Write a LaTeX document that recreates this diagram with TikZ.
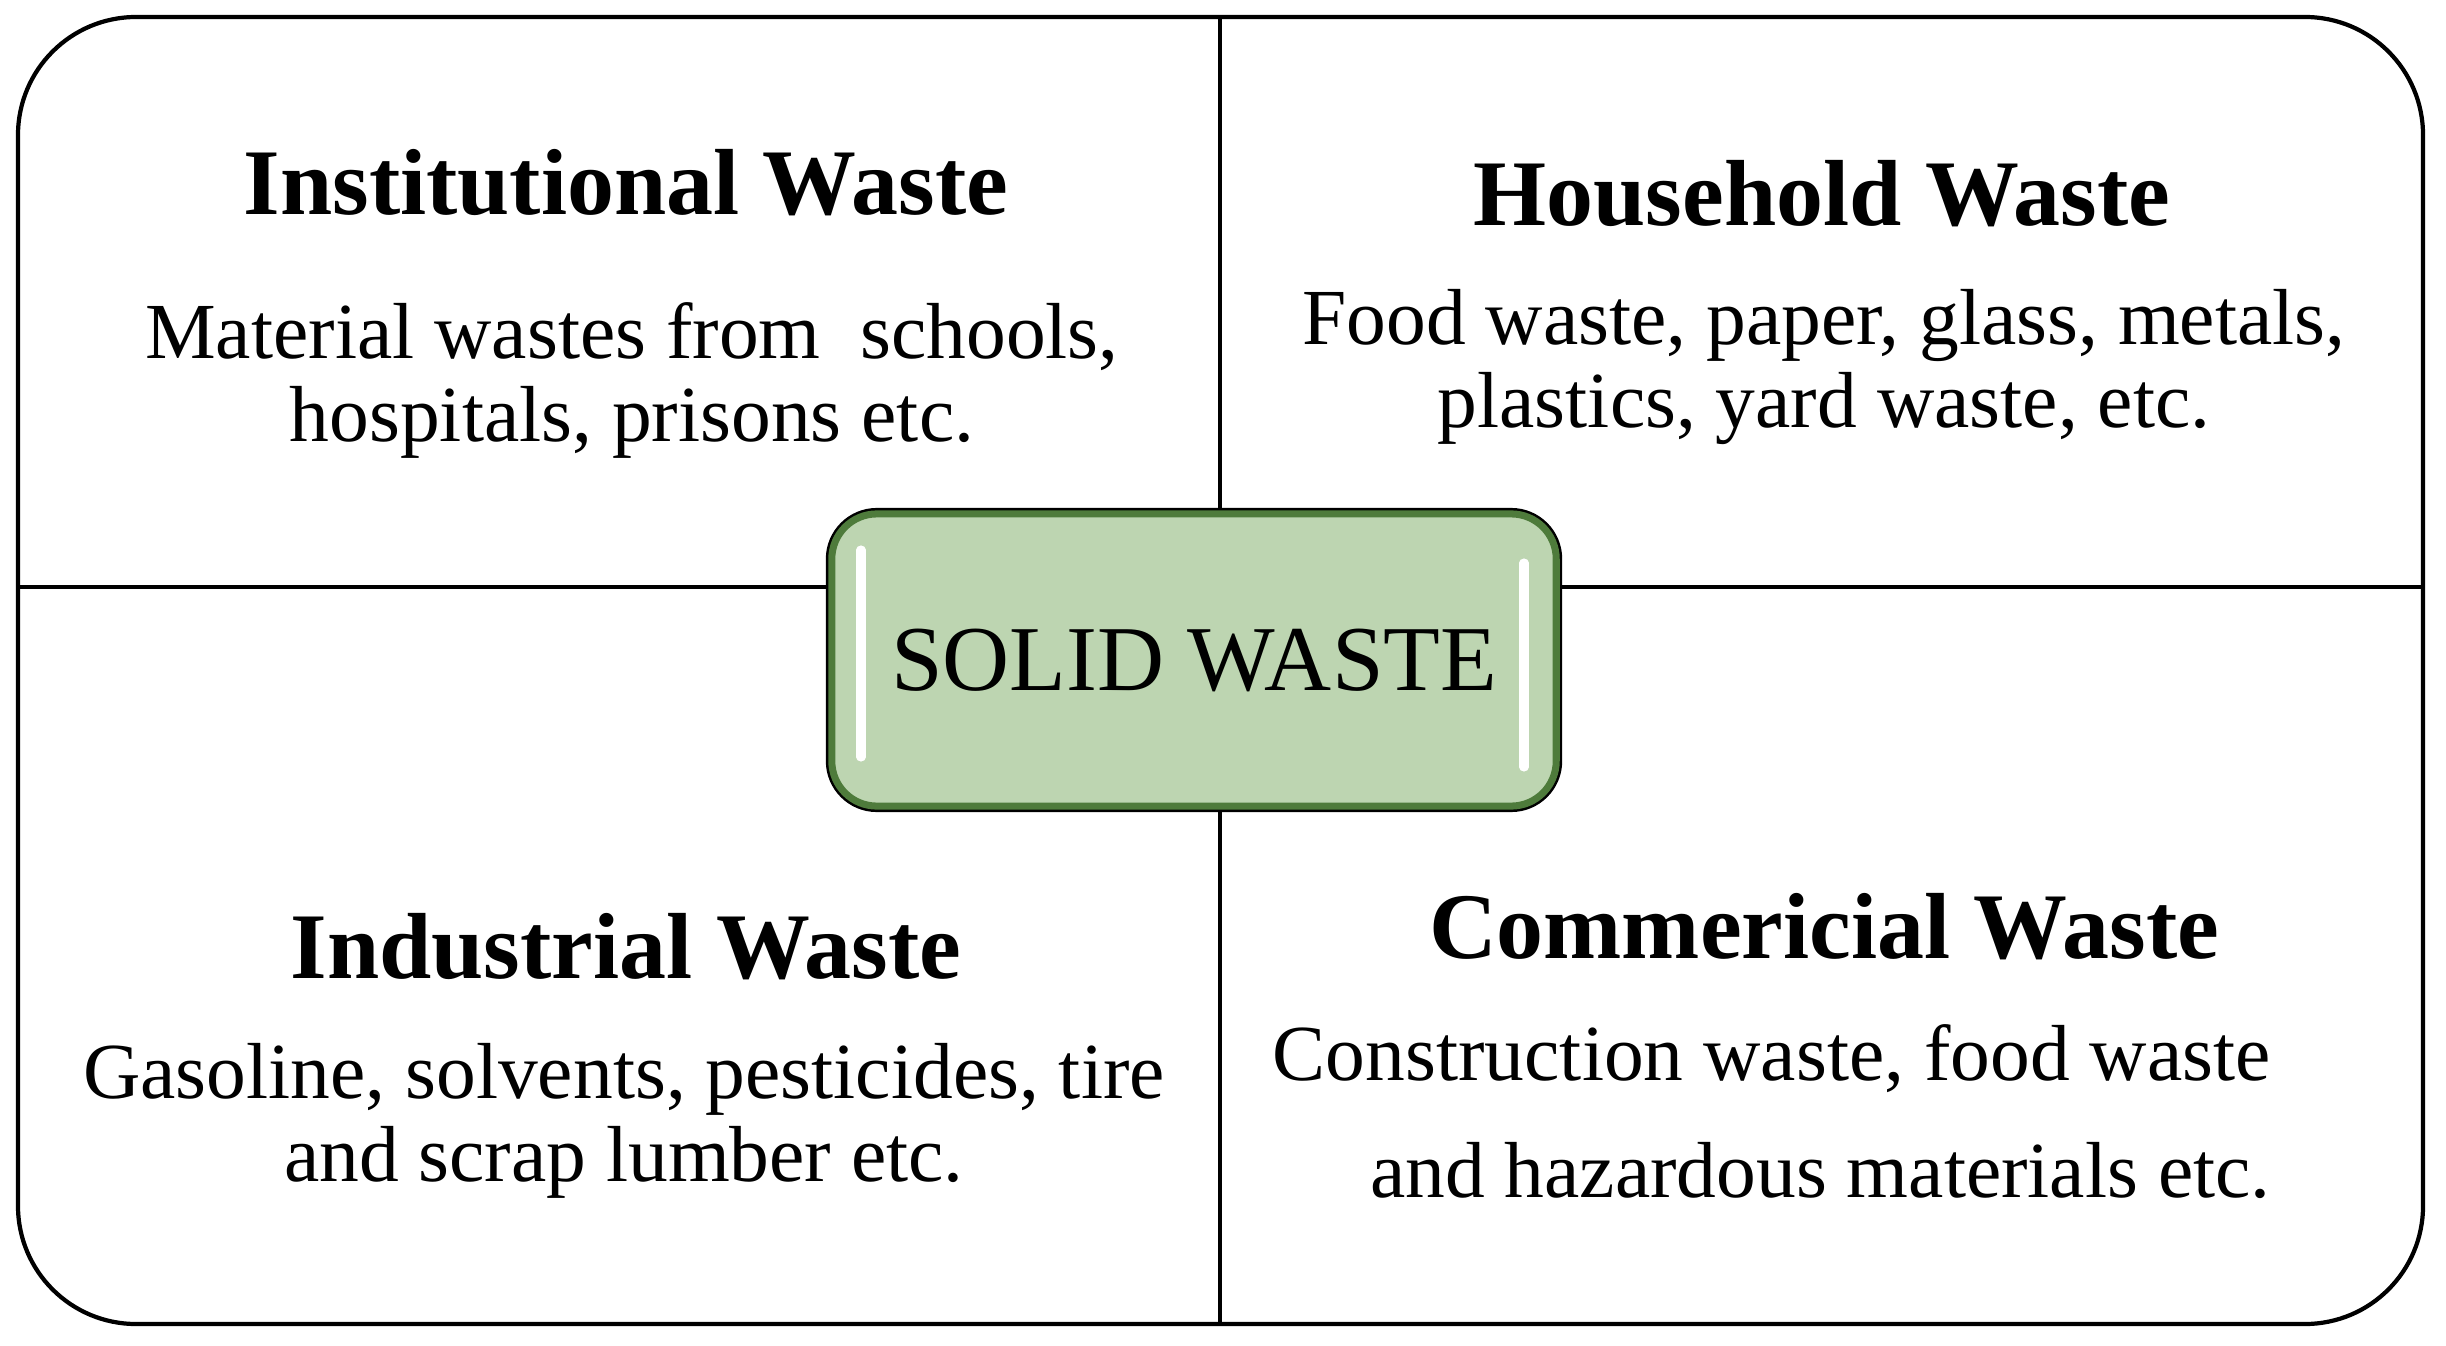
\documentclass[tikz,border=0pt]{standalone}
\usepackage{fontspec}
\setmainfont{Liberation Serif}
\definecolor{solidfill}{HTML}{BDD5B1}
\definecolor{solidedge}{HTML}{4E7B3B}
\begin{document}
\begin{tikzpicture}[x=0.01cm,y=-0.01cm,
  frame/.style={line width=1.2pt, rounded corners=1.18cm},
  divider/.style={line width=1.1pt},
  title/.style={anchor=base, font=\fontsize{26.7}{30}\selectfont\bfseries},
  desc/.style={anchor=base, align=center, font=\fontsize{22.6}{23.4}\selectfont},
  solidbox/.style={preaction={draw=black,line width=3.4pt}, fill=solidfill, draw=solidedge, line width=2pt, rounded corners=0.45cm, minimum width=7.24cm, minimum height=2.92cm, inner sep=0pt, font=\fontsize{26.4}{30}\selectfont},
  shine/.style={white, line width=2.6pt, line cap=round}]
\useasboundingbox (0,0) rectangle (2446,1346);
\draw[frame] (18,17) rectangle (2423,1324);
\coordinate (divTop) at (1220,17);
\coordinate (divBot) at (1220,1324);
\coordinate (divLeft) at (18,587);
\coordinate (divRight) at (2423,587);
\draw[divider] (divTop) -- (divBot);
\draw[divider] (divLeft) -- (divRight);
\node (instTitle) [title] at (626,215) {Institutional Waste};
\node (instText) [desc] at (632,441) {Material wastes from\ \ schools,\\hospitals, prisons etc.};
\node (houseTitle) [title] at (1822,226) {Household Waste};
\node (houseText) [desc] at (1824,427) {Food waste, paper, glass, metals,\\plastics, yard waste, etc.};
\node (indTitle) [title] at (626,978) {Industrial Waste};
\node (indText) [desc] at (624,1181) {Gasoline, solvents, pesticides, tire\\and scrap lumber etc.};
\node (commTitle) [title] at (1824,958) {Commericial Waste};
\node (commText) [desc, align=right, anchor=base east] at (2283,1197) {Construction waste, food waste\\[9.7pt]and hazardous materials etc.};
\node (solid) [solidbox] at (1194,660) {SOLID WASTE};
\draw[shine] (861,550) -- (861,757);
\draw[shine] (1524,563) -- (1524,767);
\end{tikzpicture}
\end{document}
